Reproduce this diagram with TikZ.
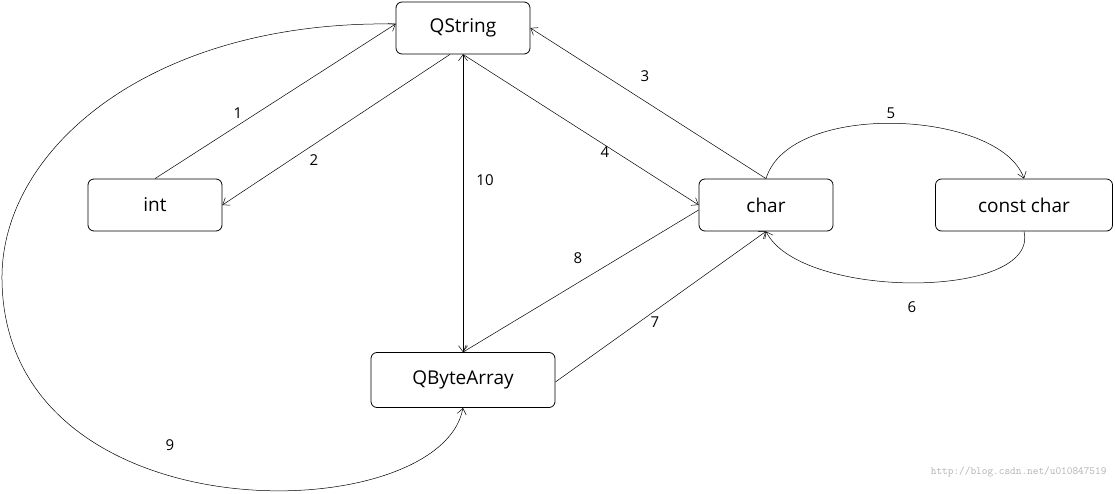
\documentclass[tikz,border=0pt]{standalone}
\usepackage{fontspec}
\setmainfont{Open Sans}
\usetikzlibrary{arrows.meta}
\begin{document}
\begin{tikzpicture}[x=1pt,y=-1pt,
  box/.style={draw,line width=0.8pt,rounded corners=6pt,minimum height=52pt,font=\fontsize{19}{22}\selectfont,inner sep=0pt},
  lab/.style={font=\fontsize{15}{17}\selectfont},
  arr/.style={-{Straight Barb[length=6pt,width=9pt]},line width=0.5pt}]
\useasboundingbox (0,0) rectangle (1115,494);
\node[box,minimum width=134pt] (qs) at (463,28) {QString};
\node[box,minimum width=134pt] (int) at (155,205) {int};
\node[box,minimum width=134pt] (ch) at (766,205) {char};
\node[box,minimum width=177pt] (cc) at (1024,205) {const char};
\node[box,minimum width=184pt,minimum height=55pt] (qb) at (463,380) {QByteArray};
\draw[arr] (int.north) -- ([yshift=4pt]qs.west);
\draw[arr] ([xshift=-13pt]qs.south) -- (int.east);
\draw[arr] (ch.north) -- (qs.east);
\draw[arr] (qs.south) -- (ch.west);
\draw[arr] (ch.north) .. controls (790,100) and (1000,110) .. (cc.north);
\draw[arr] (cc.south) .. controls (1040,300) and (800,300) .. (ch.south);
\draw[arr] ([yshift=-2pt]qb.east) -- (ch.south);
\draw[arr] ([yshift=-5pt]ch.west) -- (qb.north);
\draw[arr] ([yshift=4pt]qs.west) .. controls (150,20) and (0,150) .. (2,280) .. controls (5,540) and (440,530) .. (qb.south);
\draw[{Straight Barb[length=6pt,width=9pt]}-{Straight Barb[length=6pt,width=9pt]},line width=0.5pt] (qs.south) -- (qb.north);
\node[lab] (l1) at (238,113) {1};
\node[lab] (l2) at (314,160) {2};
\node[lab] (l3) at (645,76) {3};
\node[lab] (l4) at (605,152) {4};
\node[lab] (l5) at (891,113) {5};
\node[lab] (l6) at (912,307) {6};
\node[lab] (l7) at (655,322) {7};
\node[lab] (l8) at (578,258) {8};
\node[lab] (l9) at (170,445) {9};
\node[lab] (l10) at (485,180) {10};
\node[font=\ttfamily\fontsize{11}{13}\selectfont,text=black!30,anchor=east] (wm) at (1110,472) {http://blog.csdn.net/u010847519};
\end{tikzpicture}
\end{document}
